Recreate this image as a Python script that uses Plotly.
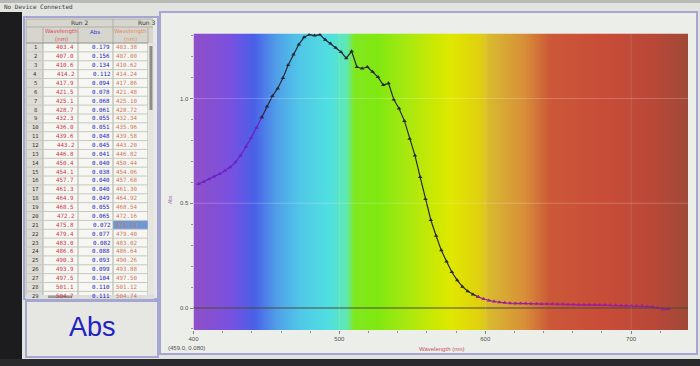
import plotly.graph_objects as go

# ---------------- data ----------------
wavelength_nm = [403.4, 407.0, 410.6, 414.2, 417.9, 421.5, 425.1, 428.7, 432.3, 436.0,
                 439.6, 443.2, 446.8, 450.4, 454.1, 457.7, 461.3, 464.9, 468.5, 472.2,
                 475.8, 479.4, 483.0, 486.6, 490.3, 493.9, 497.5, 501.1, 504.7, 508.4,
                 512.0, 515.6, 519.2, 522.8, 526.5, 530.1, 533.7, 537.3, 540.9, 544.6,
                 548.2, 551.8, 555.4, 559.0, 562.7, 566.3, 569.9, 573.5, 577.1, 580.8,
                 584.4, 588.0, 591.6, 595.2, 598.9, 602.5, 606.1, 609.7, 613.3, 617.0,
                 620.6, 624.2, 627.8, 631.4, 635.1, 638.7, 642.3, 645.9, 649.5, 653.2,
                 656.8, 660.4, 664.0, 667.6, 671.3, 674.9, 678.5, 682.1, 685.7, 689.4,
                 693.0, 696.6, 700.2, 703.8, 707.5, 711.1, 714.7, 718.3, 721.9, 725.6]
absorbance = [0.592, 0.603, 0.615, 0.627, 0.640, 0.655, 0.672, 0.695, 0.728, 0.770,
              0.812, 0.860, 0.910, 0.962, 1.012, 1.048, 1.098, 1.160, 1.210, 1.258,
              1.292, 1.305, 1.300, 1.305, 1.280, 1.262, 1.242, 1.222, 1.192, 1.225,
              1.150, 1.143, 1.150, 1.128, 1.102, 1.064, 1.072, 0.995, 0.952, 0.893,
              0.808, 0.728, 0.625, 0.520, 0.420, 0.345, 0.275, 0.222, 0.172, 0.132,
              0.102, 0.080, 0.064, 0.052, 0.043, 0.036, 0.031, 0.027, 0.025, 0.023,
              0.022, 0.021, 0.021, 0.020, 0.020, 0.019, 0.019, 0.019, 0.018, 0.018,
              0.017, 0.017, 0.016, 0.016, 0.015, 0.015, 0.014, 0.014, 0.013, 0.013,
              0.012, 0.012, 0.011, 0.010, 0.009, 0.007, 0.005, 0.001, -0.006, -0.005]

# table (left panel)
row_numbers = [str(i) for i in range(1, 30)]
run2_wavelength = ["403.4", "407.0", "410.6", "414.2", "417.9", "421.5", "425.1", "428.7",
                   "432.3", "436.0", "439.6", "443.2", "446.8", "450.4", "454.1", "457.7",
                   "461.3", "464.9", "468.5", "472.2", "475.8", "479.4", "483.0", "486.6",
                   "490.3", "493.9", "497.5", "501.1", "504.7"]
run2_abs = ["0.179", "0.156", "0.134", "0.112", "0.094", "0.078", "0.068", "0.061",
            "0.055", "0.051", "0.048", "0.045", "0.041", "0.040", "0.038", "0.040",
            "0.040", "0.049", "0.055", "0.065", "0.072", "0.077", "0.082", "0.088",
            "0.093", "0.099", "0.104", "0.110", "0.111"]
run3_wavelength = ["403.38", "407.00", "410.62", "414.24", "417.86", "421.48", "425.10",
                   "428.72", "432.34", "435.96", "439.58", "443.20", "446.82", "450.44",
                   "454.06", "457.68", "461.30", "464.92", "468.54", "472.16", "475.78",
                   "479.40", "483.02", "486.64", "490.26", "493.88", "497.50", "501.12",
                   "504.74"]

# background spectrum
bg_nm = [400, 425, 441, 457, 473, 493, 505, 510, 526, 546, 567, 576, 596, 603, 626,
         644, 683, 717, 739]
bg_colors = ['#9050c8', '#7a50e0', '#4a60e8', '#50a0e8', '#50c8e8', '#50e0e0', '#60e8b0',
             '#80e820', '#80e810', '#a8e810', '#d0e800', '#e0e800', '#e0d010', '#d8b830',
             '#d89038', '#cc5838', '#c84c38', '#b84838', '#a04838']

W, H = 700, 366
def px(x):
    return x / W
def py(y):
    return 1 - y / H

fig = go.Figure()

n = len(bg_nm)
fig.add_trace(go.Heatmap(
    x=bg_nm, y=[-0.105, 1.31], z=[list(range(n)), list(range(n))],
    colorscale=[[i / (n - 1), c] for i, c in enumerate(bg_colors)],
    zsmooth='best', showscale=False, hoverinfo='skip', zmin=0, zmax=n - 1))

segments = [(0, 13, '#6a22c4'), (12, 54, '#2a2836'), (53, len(wavelength_nm), '#9a1e9e')]
for a, b, col in segments:
    fig.add_trace(go.Scatter(
        x=wavelength_nm[a:b], y=absorbance[a:b], mode='lines+markers',
        line=dict(color=col, width=1.2),
        marker=dict(symbol='triangle-up', size=4, color=col),
        hoverinfo='skip', showlegend=False))

shapes = []
def rect(x0, y0, x1, y1, fill, lc=None, lw=0, layer='below'):
    shapes.append(dict(type='rect', xref='paper', yref='paper', x0=px(x0), x1=px(x1),
                       y0=py(y1), y1=py(y0), fillcolor=fill,
                       line=dict(color=lc or fill, width=lw), layer=layer))
def hline(x0, x1, y, col, lw=1):
    shapes.append(dict(type='line', xref='paper', yref='paper', x0=px(x0), x1=px(x1),
                       y0=py(y), y1=py(y), line=dict(color=col, width=lw), layer='below'))
def vline(x, y0, y1, col, lw=1):
    shapes.append(dict(type='line', xref='paper', yref='paper', x0=px(x), x1=px(x),
                       y0=py(y0), y1=py(y1), line=dict(color=col, width=lw), layer='below'))

# bezels and top bar
rect(0, 12, 22, 366, '#1c1c1e')
rect(0, 359, 700, 366, '#2a2a2c')
rect(0, 0, 700, 3, '#b8bab6')
# graph panel
rect(160, 12, 697, 354, '#eceee9', '#a6a6d2', 2)
# table frame
rect(24, 17, 158, 299, '#e8e8e4', '#a6a6d2', 2)
# Abs box
rect(26, 301, 158, 357, '#e6e6e2', '#a6a6d2', 2)

# manual table grid
col_edges = [26, 43, 78, 113, 148]
rows_top, row_h = 43, 8.87
rect(26, 19, 153, 43, '#d6d6ce')
rect(26, 43, 43, 297, '#dedcd6')
rect(43, 43, 148, 297, '#f6f6f2')
rect(113, rows_top + 20 * row_h, 148, rows_top + 21 * row_h, '#6d98d6')
for xe in col_edges:
    vline(xe, 27, 297, '#b0b0a8')
vline(26, 19, 27, '#b0b0a8')
vline(113, 19, 27, '#b0b0a8')
hline(26, 153, 19, '#b0b0a8')
hline(26, 153, 27, '#b0b0a8')
hline(26, 148, 43, '#909088')
for i in range(1, 29):
    hline(26, 148, rows_top + i * row_h, '#c8c8c0')
# scrollbars
rect(148, 43, 154, 297, '#e4e4e0')
rect(149.5, 46, 152.5, 110, '#8c8c88')
rect(26, 295, 154, 299, '#dcdcd8')
rect(48, 295.5, 72, 298, '#9a9a96')

annotations = []
def txt(text, x, y, size, color, family='DejaVu Sans', xanchor='center', **kw):
    annotations.append(dict(text=text, x=px(x), y=py(y), xref='paper', yref='paper',
                            xanchor=xanchor, yanchor='middle', showarrow=False,
                            borderpad=0, font=dict(family=family, size=size, color=color), **kw))

txt("No Device Connected", 3, 6, 6, '#3a3a3a', 'DejaVu Sans Mono', 'left')
txt("Run 2", 79, 23, 6, '#333333')
txt("Run 3", 146, 23, 6, '#333333')
txt("Wavelength", 61, 32, 5.5, '#e04858')
txt("(nm)", 61, 39, 5.5, '#e04858')
txt("Abs", 95, 32, 5.5, '#3636d0')
txt("Wavelength", 130, 32, 5.5, '#e48a5a')
txt("(nm)", 130, 39, 5.5, '#e48a5a')
for i in range(29):
    yc = rows_top + (i + 0.5) * row_h
    if yc > 296:
        yc = 295.5
    txt(row_numbers[i], 35, yc, 5.5, '#333333', 'DejaVu Sans Mono')
    txt(run2_wavelength[i], 75, yc, 5.8, '#c83a48', 'DejaVu Sans Mono', 'right')
    txt(run2_abs[i], 111, yc, 5.8, '#2424b8', 'DejaVu Sans Mono', 'right')
    txt(run3_wavelength[i], 115, yc, 5.8, '#d0785a', 'DejaVu Sans Mono', 'left')

txt("Abs", 92, 327, 27, '#2222c2', 'Liberation Sans')
txt("Abs", 170, 200, 5, '#a070b0', 'Liberation Sans', textangle=-90)
txt("Wavelength (nm)", 441, 349, 6, '#c85060', 'Liberation Sans')
txt("(459.0, 0.080)", 186, 348, 6, '#505050', 'Liberation Sans')

# reference lines inside plot
for yv, col, wd in [(0.0, '#4a4a38', 1.2), (0.5, 'rgba(255,255,255,0.22)', 1),
                    (1.0, 'rgba(255,255,255,0.22)', 1)]:
    shapes.append(dict(type='line', xref='x domain', yref='y', x0=0, x1=1, y0=yv, y1=yv,
                       line=dict(color=col, width=wd), layer='above'))
for xv in [500, 600, 700]:
    shapes.append(dict(type='line', xref='x', yref='y domain', x0=xv, x1=xv, y0=0, y1=1,
                       line=dict(color='rgba(255,255,255,0.12)', width=1), layer='above'))

fig.update_layout(
    width=W, height=H, margin=dict(l=0, r=0, t=0, b=0, pad=0, autoexpand=False),
    paper_bgcolor='#e2e4e0', plot_bgcolor='#eceee9',
    showlegend=False, shapes=shapes, annotations=annotations,
    xaxis=dict(domain=[px(193.5), px(688)], range=[400, 739], dtick=100, automargin=False,
               showgrid=False, zeroline=False, ticks='outside', ticklen=3,
               tickcolor='#808080', tickfont=dict(family='Liberation Sans', size=6, color='#505050'),
               minor=dict(ticks='outside', dtick=20, ticklen=2, tickcolor='#909090')),
    yaxis=dict(domain=[py(330), py(33.5)], range=[-0.105, 1.31], dtick=0.5, tickformat='.1f',
               automargin=False,
               showgrid=False, zeroline=False, ticks='outside', ticklen=3,
               tickcolor='#808080', tickfont=dict(family='Liberation Sans', size=6, color='#505050'),
               minor=dict(ticks='outside', dtick=0.1, ticklen=2, tickcolor='#909090')),
)

fig.write_html("out.html")
